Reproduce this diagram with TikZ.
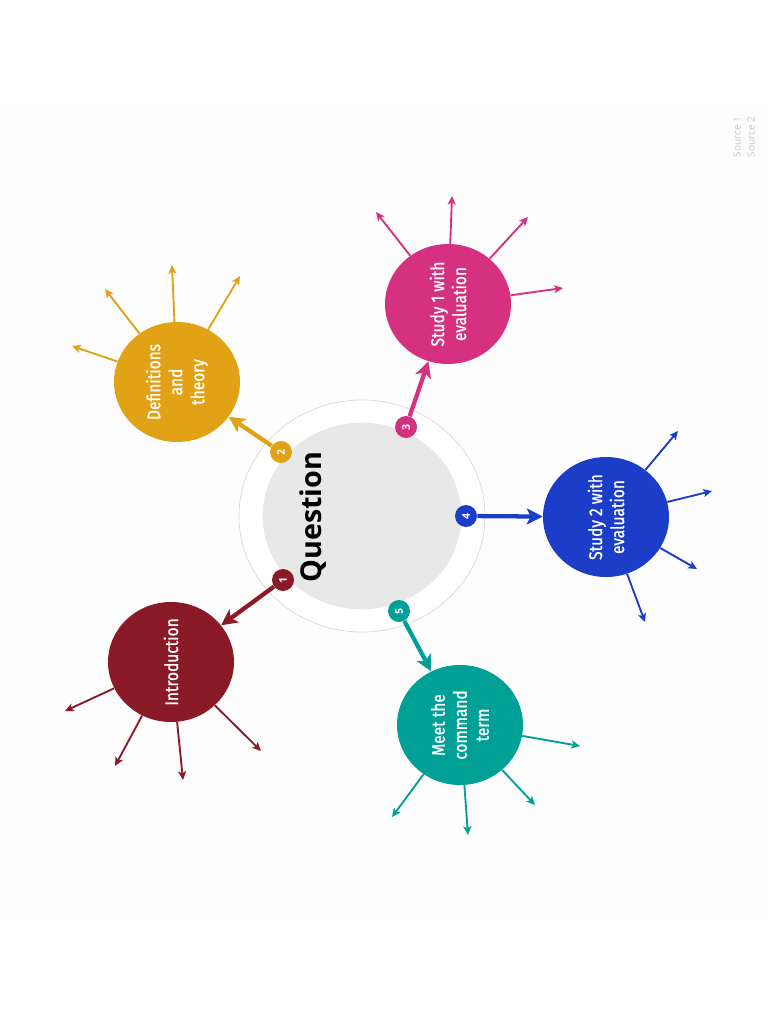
\documentclass[tikz,border=0pt]{standalone}
\usepackage{fontspec}
\setmainfont{Open Sans}
\newfontfamily\condfont[FakeStretch=0.84,FakeBold=1]{Fira Sans}
\newfontfamily\qfont{Open Sans}
\usetikzlibrary{shapes.geometric,arrows.meta}
\definecolor{cIntro}{HTML}{8B1A27}
\definecolor{cDef}{HTML}{E2A215}
\definecolor{cSa}{HTML}{D63181}
\definecolor{cSb}{HTML}{1B3DC8}
\definecolor{cCmd}{HTML}{00A096}
\definecolor{ringgray}{HTML}{D6D6D6}
\definecolor{qgray}{HTML}{E8E8E8}
\definecolor{pagebg}{HTML}{FDFDFD}
\begin{document}
\begin{tikzpicture}[x=0.75pt,y=-0.75pt,
  bubble/.style={ellipse, minimum width=94.5pt, minimum height=90pt, inner sep=0pt, draw=none},
  btext/.style={rotate=90, text=white, align=center, inner sep=0pt, font=\condfont\fontsize{13.8}{16.5}\selectfont},
  badge/.style={circle, minimum size=16.5pt, inner sep=0pt, text=white, rotate=90, font=\bfseries\fontsize{8}{8}\selectfont},
  thickarr/.style={line width=3.2pt, -{Stealth[length=12pt,width=12pt,inset=3pt]}},
  thinarr/.style={line width=1.4pt, -{Stealth[length=6.5pt,width=6pt,inset=1.5pt]}},
  srctext/.style={rotate=90, text=black!22, inner sep=0pt, font=\fontsize{7.5}{9}\selectfont}
]
\fill[white] (0,0) rectangle (768,1024);
\useasboundingbox (0,0) rectangle (768,1024);
\fill[pagebg] (0,105) rectangle (768,920);

% central question
\node[ellipse, draw=ringgray, line width=0.5pt, fill=white, minimum width=184.5pt, minimum height=174pt, inner sep=0pt] (ring) at (362,516) {};
\node[ellipse, fill=qgray, minimum width=149pt, minimum height=140pt, inner sep=0pt] (core) at (362,516) {};
\node[rotate=90, inner sep=0pt, font=\qfont\bfseries\fontsize{21.5}{26}\selectfont] (qtext) at (313,517) {Question};

% bubbles
\node[bubble, fill=cIntro] (intro) at (171,662) {};
\node[btext] (introT) at (intro) {Introduction};
\node[bubble, fill=cDef] (defs) at (177,382) {};
\node[btext] (defsT) at (defs) {Definitions\\and\\theory};
\node[bubble, fill=cSa] (sa) at (448,304) {};
\node[btext] (saT) at (sa) {Study 1 with\\evaluation};
\node[bubble, fill=cSb] (sb) at (606,517) {};
\node[btext] (sbT) at (sb) {Study 2 with\\evaluation};
\node[bubble, fill=cCmd] (cmd) at (460,725) {};
\node[btext] (cmdT) at (cmd) {Meet the\\command\\term};

% badges
\node[badge, fill=cIntro] (b1) at (283,580) {1};
\node[badge, fill=cDef] (b2) at (281,452) {2};
\node[badge, fill=cSa] (b3) at (406,427) {3};
\node[badge, fill=cSb] (b4) at (466,516) {4};
\node[badge, fill=cCmd] (b5) at (399,611) {5};

\draw[thickarr, cIntro] (b1) -- (intro);
\draw[thickarr, cDef] (b2) -- (defs);
\draw[thickarr, cSa] (b3) -- (sa);
\draw[thickarr, cSb] (b4) -- (sb);
\draw[thickarr, cCmd] (b5) -- (cmd);

% free ends
\coordinate (i1) at (65,711);
\coordinate (i2) at (115,766);
\coordinate (i3) at (183,780);
\coordinate (i4) at (261,751);
\coordinate (d1) at (72,346);
\coordinate (d2) at (105,289);
\coordinate (d3) at (172,265);
\coordinate (d4) at (240,276);
\coordinate (a1) at (376,212);
\coordinate (a2) at (452,196);
\coordinate (a3) at (528,217);
\coordinate (a4) at (563,288);
\coordinate (s1) at (678,431);
\coordinate (s2) at (712,491);
\coordinate (s3) at (697,569);
\coordinate (s4) at (645,622);
\coordinate (m1) at (580,746);
\coordinate (m2) at (535,805);
\coordinate (m3) at (468,835);
\coordinate (m4) at (392,817);

\foreach \e in {i1,i2,i3,i4} \draw[thinarr, cIntro] (intro) -- (\e);
\foreach \e in {d1,d2,d3,d4} \draw[thinarr, cDef] (defs) -- (\e);
\foreach \e in {a1,a2,a3,a4} \draw[thinarr, cSa] (sa) -- (\e);
\foreach \e in {s1,s2,s3,s4} \draw[thinarr, cSb] (sb) -- (\e);
\foreach \e in {m1,m2,m3,m4} \draw[thinarr, cCmd] (cmd) -- (\e);

% sources
\node[srctext] (src1) at (737,137) {Source 1};
\node[srctext] (src2) at (751,137) {Source 2};
\end{tikzpicture}
\end{document}
